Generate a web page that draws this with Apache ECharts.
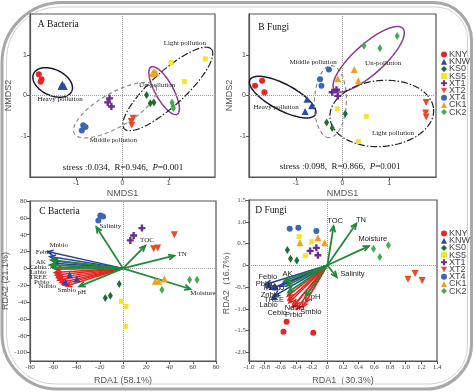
<!DOCTYPE html>
<html><head><meta charset="utf-8">
<script src="https://cdn.jsdelivr.net/npm/echarts@6/dist/echarts.min.js"></script>
<style>html,body{margin:0;padding:0;background:#fff}#c{width:474px;height:392px}</style>
</head><body><div id="c"></div>
<script>
// ---------- groups ----------
const groups = ['KNY','KNW','KS0','KS5','XT1','XT2','XT4','CK1','CK2'];

// ---------- Panel A: Bacteria NMDS ----------
const A_KNY = [[-1.81,0.52],[-1.75,0.40],[-1.77,0.34]];
const A_KNW = [[-1.30,0.28],[-1.26,0.22],[-1.33,0.22]];
const A_KS0 = [[0.52,0.01],[0.60,-0.19],[0.68,-0.17]];
const A_KS5 = [[1.05,0.81],[1.34,0.34],[1.79,0.90]];
const A_XT1 = [[-0.28,-0.07],[-0.32,-0.17],[-0.24,-0.27]];
const A_XT2 = [[0.23,-0.56],[0.19,-0.64],[0.20,-0.73]];
const A_XT4 = [[-0.85,-0.73],[-0.80,-0.77],[-0.88,-0.86]];
const A_CK1 = [[0.68,0.58],[0.72,0.56],[0.65,0.54]];
const A_CK2 = [[1.07,-0.17],[1.09,-0.26],[1.10,-0.31]];

// ---------- Panel B: Fungi NMDS ----------
const B_KNY = [[-1.87,0.24],[-1.72,0.36],[-1.67,0.08]];
const B_KNW = [[-0.76,-0.09],[-0.66,-0.25],[-0.80,-0.39]];
const B_KS0 = [[-0.34,-0.66],[-0.22,-0.80],[0.06,-0.45]];
const B_KS5 = [[-0.11,-0.33],[0.51,-0.51],[0.34,-1.13]];
const B_XT1 = [[-0.22,0.08],[-0.13,0.14],[-0.10,-0.01]];
const B_XT2 = [[1.79,-0.17],[1.78,-0.43],[1.79,-0.53]];
const B_XT4 = [[-0.29,0.64],[-0.48,0.40],[-0.45,0.24]];
const B_CK1 = [[-0.10,0.41],[0.25,0.64],[0.34,0.36]];
const B_CK2 = [[0.46,1.22],[0.80,1.16],[1.17,1.46]];

// ---------- Panel C: Bacteria RDA ----------
const C_KNY = [[-55.3,-7.5],[-53.9,-10.7],[-54.5,-9.5]];
const C_KNW = [[-45.9,-7.5],[-39.6,-12.6],[-49.6,-16.6]];
const C_KS0 = [[-3.2,-18.6],[-15.2,-35.2],[-10.9,-32.4]];
const C_KS5 = [[-1.4,-39.1],[2.6,-45.1],[2.3,-68.8]];
const C_XT1 = [[16.3,47.8],[9.2,39.1],[6.3,33.2]];
const C_XT2 = [[44.2,39.9],[26.4,23.3],[29.8,24.1]];
const C_XT4 = [[-19.5,62.8],[-17.2,61.7],[-21.2,56.9]];
const C_CK1 = [[27.8,-15.4],[30.7,-15.4],[35.6,-12.3]];
const C_CK2 = [[57.3,-13.4],[63.7,-13.4],[33.5,-25.3]];
const C_envArrows = [[-22.9,49.0],[19.2,26.9],[44.2,15.0],[57.9,-24.5],[-37.6,-21.3],[-62,10],[-63,4],[-61,1]];
const C_blueArrows = [[-65,20],[-63,14],[-61,9],[-59,6]];
const C_redArrows = [[-58,-1],[-59,-5],[-58,-8],[-57,-11],[-56,-14],[-54,-17],[-52,-19],[-49,-21]];
const C_labels = [[-55.3,28.1,'Mnbio'],[-68.2,19.0,'Febio'],[-70.8,7.5,'AK'],[-72.9,1.5,'Cebio'],[-72.9,-4.4,'Labio'],[-72.9,-10.3,'TREE'],[-70,-16.2,'Prbio'],[-65.1,-21.4,'Ndbio'],[-48.4,-26.1,'Smbio'],[-35.5,-28.1,'pH'],[-10.9,50.6,'Salinity'],[20.6,34.0,'TOC'],[50.8,17.4,'TN'],[68.8,-30.0,'Moisture']];

// ---------- Panel D: Fungi RDA ----------
const D_KNY = [[-0.52,-1.30],[-0.56,-1.53],[-0.18,-1.55]];
const D_KNW = [[-0.75,-0.45],[-0.66,-0.50],[-0.68,-0.72]];
const D_KS0 = [[-0.51,0.35],[-0.47,0.15],[-0.39,0.11]];
const D_KS5 = [[-0.36,0.66],[-0.20,0.54],[-0.28,0.22]];
const D_XT1 = [[-0.22,0.33],[-0.14,0.40],[-0.12,0.23]];
const D_XT2 = [[1.03,-0.32],[1.12,-0.19],[1.21,-0.35]];
const D_XT4 = [[-0.48,0.84],[-0.37,0.86],[-0.14,0.79]];
const D_CK1 = [[-0.35,0.52],[-0.12,0.63],[-0.035,0.52]];
const D_CK2 = [[0.59,0.38],[0.67,0.19],[0.78,0.46]];
const D_envArrows = [[0.08,0.90],[0.37,0.96],[0.53,0.44],[0.12,-0.27],[-0.28,-0.71],[-0.55,-0.36],[-0.52,-0.47],[-0.50,-0.62]];
const D_blueArrows = [[-0.79,-0.44],[-0.73,-0.55],[-0.68,-0.71],[-0.60,-0.48],[-0.53,-0.42]];
const D_redArrows = [[-0.51,-0.71],[-0.50,-0.80],[-0.49,-0.86],[-0.45,-0.97],[-0.39,-1.01],[-0.32,-0.97],[-0.28,-0.86],[-0.42,-0.92]];
const D_labels = [[-0.76,-0.26,'Febio'],[-0.51,-0.21,'AK'],[-0.79,-0.42,'Pbbio'],[-0.68,-0.51,'Mnbio'],[-0.73,-0.68,'Znbio'],[-0.68,-0.80,'TREE'],[-0.75,-0.92,'Labio'],[-0.42,-0.97,'Ndbio'],[-0.64,-1.09,'Cebio'],[-0.43,-1.13,'Prbio'],[-0.21,-1.07,'Smbio'],[-0.15,-0.73,'pH'],[0.32,-0.19,'Salinity'],[0.10,1.03,'TOC'],[0.43,1.05,'TN'],[0.58,0.61,'Moisture']];

// ---------- ellipses (center in data, semi-axes px, angle deg, style) ----------
const A_ellipses = [[-1.51,0.32,21,13,25,'heavy'],[0.90,0.12,27,9,61,'un'],[0.98,0.16,59,17,-42.5,'light'],[-0.16,-0.36,47,17,-30,'middle']];
const B_ellipses = [[-1.28,-0.04,37,13,28,'heavy'],[-0.26,-0.15,36,16,92,'middle'],[0.56,0.89,46,15,-42,'un'],[0.84,-0.44,52,33,-5,'light']];
const A_notes = [[-1.35,-0.09,'Heavy pollution'],[1.35,1.29,'Light pollution'],[0.75,0.26,'Un-pollution'],[-0.2,-1.09,'Middle pollution']];
const B_notes = [[-1.42,-0.28,'Heavy pollution'],[-0.63,0.82,'Middle pollution'],[0.87,0.80,'Un-pollution'],[1.08,-0.92,'Light pollution']];

// ---------- styles ----------
const SYM = {
  KNY:{symbol:'circle',size:6,color:'#e4262b'},
  KNW:{symbol:'triangle',size:7,color:'#2b4ba0'},
  KS0:{symbol:'diamond',size:[5,8],color:'#1d6e31'},
  KS5:{symbol:'rect',size:5,color:'#f3e52b'},
  XT1:{symbol:'path://M3.3,0H6.7V3.3H10V6.7H6.7V10H3.3V6.7H0V3.3H3.3Z',size:7,color:'#6b2d8f'},
  XT2:{symbol:'path://M0,0L10,0L5,9Z',size:7,color:'#ea4a26'},
  XT4:{symbol:'circle',size:6,color:'#3d65b8'},
  CK1:{symbol:'triangle',size:7,color:'#f2a020'},
  CK2:{symbol:'diamond',size:[5,8],color:'#43ad4f'}
};
const ELL = {
  heavy:{stroke:'#1a1a2e',lineWidth:1.5,lineDash:null},
  un:{stroke:'#8e3a8e',lineWidth:1.5,lineDash:null},
  light:{stroke:'#222',lineWidth:1.2,lineDash:[7,2,1.5,2]},
  middle:{stroke:'#8a8a8a',lineWidth:1.2,lineDash:[4,3]}
};
const SERIF = '"Liberation Serif","Times New Roman",serif';
const SANS = '"Liberation Sans",Arial,sans-serif';

const pts = [
  [A_KNY,A_KNW,A_KS0,A_KS5,A_XT1,A_XT2,A_XT4,A_CK1,A_CK2],
  [B_KNY,B_KNW,B_KS0,B_KS5,B_XT1,B_XT2,B_XT4,B_CK1,B_CK2],
  [C_KNY,C_KNW,C_KS0,C_KS5,C_XT1,C_XT2,C_XT4,C_CK1,C_CK2],
  [D_KNY,D_KNW,D_KS0,D_KS5,D_XT1,D_XT2,D_XT4,D_CK1,D_CK2]
];

const series = [];
pts.forEach((arrs,gi)=>{
  arrs.forEach((arr,k)=>{
    const g = groups[k], s = SYM[g];
    const ser = {type:'scatter', name:g, xAxisIndex:gi, yAxisIndex:gi, data:arr, symbol:s.symbol, symbolSize:s.size,
      itemStyle:{color:s.color, opacity:1}, z:6, silent:true};
    if(k===0){
      ser.markLine = {silent:true, symbol:'none', label:{show:false}, animation:false,
        lineStyle:{type:'dotted', color:'#9a9a9a', width:1}, data:[{xAxis:0},{yAxis:0}]};
    }
    series.push(ser);
  });
});

function ellipseSeries(gi, list){
  return {type:'custom', xAxisIndex:gi, yAxisIndex:gi, silent:true, z:4, data:list.map(e=>[e[0],e[1]]),
    renderItem:(p,api)=>{
      const e = list[p.dataIndex];
      const c = api.coord([e[0],e[1]]);
      const th = e[4]*Math.PI/180, pts=[];
      for(let i=0;i<=96;i++){
        const t=i/96*2*Math.PI, ux=e[2]*Math.cos(t), uy=e[3]*Math.sin(t);
        pts.push([c[0]+ux*Math.cos(th)-uy*Math.sin(th), c[1]+ux*Math.sin(th)+uy*Math.cos(th)]);
      }
      const st = ELL[e[5]];
      return {type:'polyline', shape:{points:pts}, style:{stroke:st.stroke, lineWidth:st.lineWidth, lineDash:st.lineDash, fill:null}};
    }};
}
function textSeries(gi, list, font, color, align){
  return {type:'custom', xAxisIndex:gi, yAxisIndex:gi, silent:true, z:9, data:list.map(e=>[e[0],e[1]]),
    renderItem:(p,api)=>{
      const d = list[p.dataIndex];
      const c = api.coord([d[0],d[1]]);
      return {type:'text', x:c[0], y:c[1], style:{text:d[2], font:font, fill:color, align:align||'center', verticalAlign:'middle'}};
    }};
}
function arrowSeries(gi, tips, color, lw){
  return {type:'custom', xAxisIndex:gi, yAxisIndex:gi, silent:true, z:5, data:tips,
    renderItem:(p,api)=>{
      const o = api.coord([0,0]);
      const t = api.coord([api.value(0),api.value(1)]);
      const ang = Math.atan2(t[1]-o[1], t[0]-o[0]), L=6.5, w=0.42;
      const h1=[t[0]-L*Math.cos(ang-w), t[1]-L*Math.sin(ang-w)], h2=[t[0]-L*Math.cos(ang+w), t[1]-L*Math.sin(ang+w)];
      return {type:'group', children:[
        {type:'line', shape:{x1:o[0],y1:o[1],x2:t[0],y2:t[1]}, style:{stroke:color, lineWidth:lw}},
        {type:'polyline', shape:{points:[h1,t,h2]}, style:{stroke:color, lineWidth:lw, fill:null}}
      ]};
    }};
}
series.push(ellipseSeries(0, A_ellipses));
series.push(ellipseSeries(1, B_ellipses));
series.push(textSeries(0, A_notes, '7px '+SERIF, '#222'));
series.push(textSeries(1, B_notes, '7px '+SERIF, '#222'));
series.push(arrowSeries(2, C_redArrows, '#e8201e', 1.5));
series.push(arrowSeries(2, C_blueArrows, '#27449c', 1.5));
series.push(arrowSeries(2, C_envArrows, '#23883a', 1.8));
series.push(arrowSeries(3, D_redArrows, '#e8201e', 1.5));
series.push(arrowSeries(3, D_blueArrows, '#27449c', 1.5));
series.push(arrowSeries(3, D_envArrows, '#23883a', 1.8));
series.push(textSeries(2, C_labels, '7px '+SERIF, '#222'));
series.push(textSeries(3, D_labels, '7.5px '+SANS, '#222'));

const titles = [[0,-1.83,1.75,'A Bacteria'],[1,-1.80,1.68,'B Fungi'],[2,-72,67,'C Bacteria'],[3,-0.92,1.25,'D Fungi']];
titles.forEach(t=>series.push(textSeries(t[0],[[t[1],t[2],t[3]]],'9.5px '+SERIF,'#111','left')));
function statSeries(gi, x, y, s, r, pv){
  return {type:'custom', xAxisIndex:gi, yAxisIndex:gi, silent:true, z:9, data:[[x,y]],
    renderItem:(p,api)=>{const c=api.coord([x,y]);
      return {type:'text', x:c[0], y:c[1], style:{text:'{n|stress :'+s+',  R='+r+',  }{i|P}{n|='+pv+'}', align:'center', verticalAlign:'middle',
        rich:{n:{font:'9px '+SERIF, fill:'#111'}, i:{font:'italic 9px '+SERIF, fill:'#111'}}}};}};
}
series.push(statSeries(0, 0.01, -1.78, '0.034','0.946','0.001'));
series.push(statSeries(1, -0.05, -1.75, '0.098','0.866','0.001'));

const grids = [
  {left:30, top:14, width:185, height:163},
  {left:249, top:14, width:187, height:163},
  {left:30, top:201, width:186, height:160},
  {left:249, top:200, width:188, height:161}
].map(g=>Object.assign(g,{show:true, borderColor:'#555', borderWidth:1.2, containLabel:false}));

function ax(gi, min, max, vals, fmt, font, name, gap){
  return {type:'value', gridIndex:gi, min, max, name, nameLocation:'middle', nameGap:gap,
    nameTextStyle:{fontSize:9, fontFamily:SANS, color:'#555'},
    axisLine:{show:true, onZero:false, lineStyle:{color:'#555', width:1.2}},
    axisTick:{show:true, length:3, customValues:vals, lineStyle:{color:'#555'}},
    axisLabel:{show:true, customValues:vals, margin:3, formatter:fmt, fontFamily:font==='serif'?SERIF:SANS, fontSize:7, color:'#444'},
    splitLine:{show:false}};
}
const fmtInt = v=>String(v);
const fmtD = v=> v===0 ? '0' : v.toFixed(1);
const xAxis = [
  ax(0,-2,2,[-1,0,1],fmtInt,'sans','NMDS1',12),
  ax(1,-2,2,[-1,0,1],fmtInt,'sans','NMDS1',12),
  ax(2,-80,80,[-80,-60,-40,-20,0,20,40,60,80],fmtInt,'serif','RDA1 (58.1%)',15),
  ax(3,-1,1.4,[-1,-0.8,-0.6,-0.4,-0.2,0,0.2,0.4,0.6,0.8,1,1.2,1.4],fmtD,'serif','RDA1（30.3%)',15)
];
const yAxis = [
  ax(0,-2,2,[-1,0,1],fmtInt,'sans','NMDS2',17),
  ax(1,-2,2,[-1,0,1],fmtInt,'sans','NMDS2',15),
  ax(2,-110,80,[-100,-80,-60,-40,-20,0,20,40,60,80],fmtInt,'serif','RDA2 (21.1%)',17),
  ax(3,-2.2,1.5,[-2,-1.5,-1,-0.5,0,0.5,1,1.5],fmtD,'serif','RDA2（16.7%）',16)
];

function legend(top){
  return {show:true, orient:'vertical', left:441, top, data:groups, itemWidth:6, itemHeight:6, itemGap:-1.8,
    textStyle:{fontSize:9, fontFamily:SANS, color:'#444', lineHeight:6.5, padding:[0,0,0,-3]}, padding:0, selectedMode:false};
}

const option = {
  animation:false,
  backgroundColor:'#fff',
  grid:grids, xAxis, yAxis,
  legend:[legend(50), legend(229)],
  graphic:[
    {type:'rect', z:-10, silent:true, shape:{x:2,y:2.5,width:469.5,height:386.5,r:[60,38,45,55]}, style:{fill:null, stroke:'#a8a8a8', lineWidth:3}},
    {type:'rect', z:-10, silent:true, shape:{x:6.5,y:7,width:461,height:377,r:[52,32,38,48]}, style:{fill:null, stroke:'#d2d2d2', lineWidth:1}}
  ],
  series
};
const chart = echarts.init(document.getElementById('c'));
chart.setOption(option);
</script></body></html>
